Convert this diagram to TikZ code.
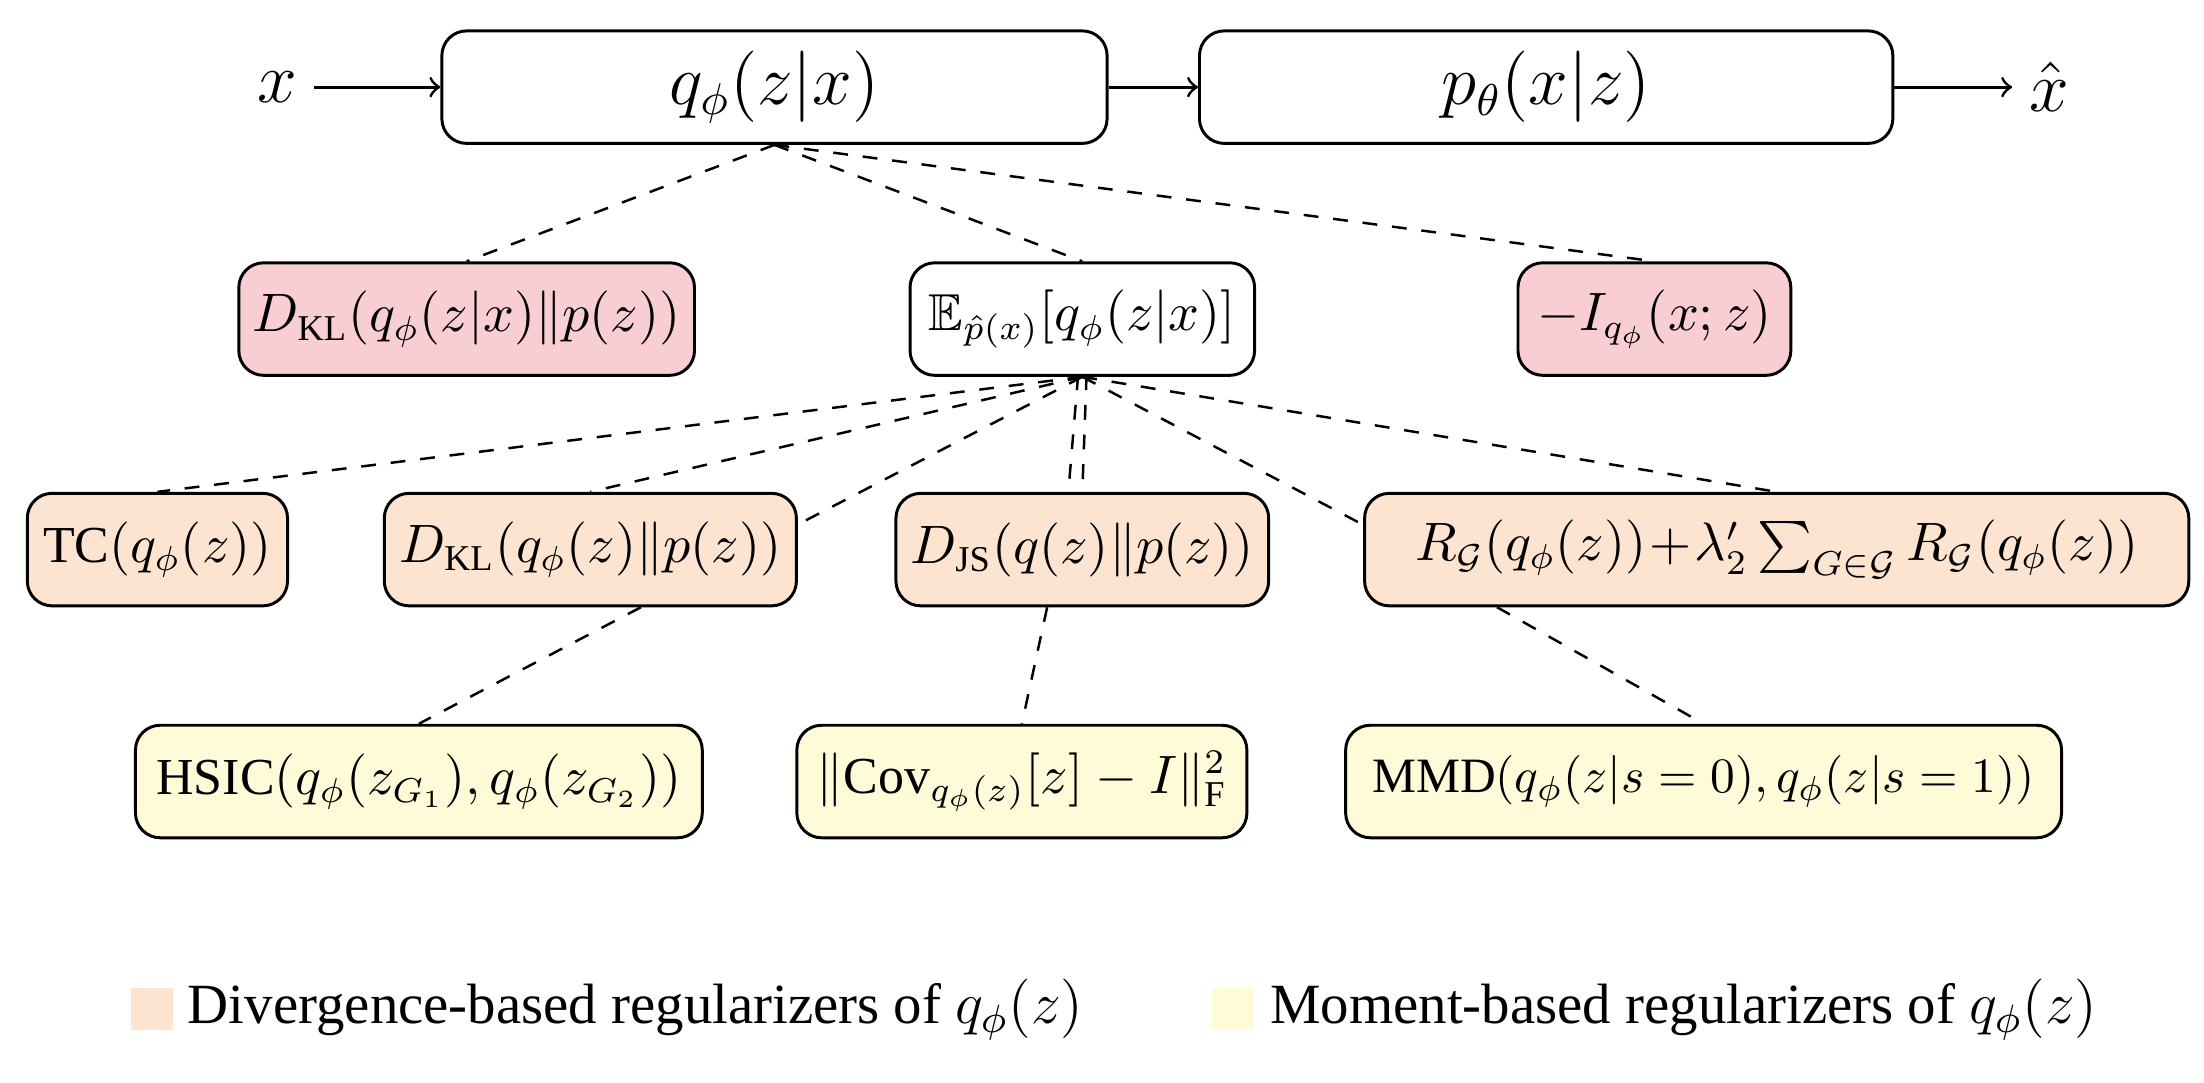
\documentclass[tikz,border=0pt]{standalone}
\usepackage{amsmath,amssymb}
\usepackage{fontspec}
\setmainfont{Liberation Serif}
\definecolor{cred}{RGB}{248,206,210}
\definecolor{corg}{RGB}{252,228,208}
\definecolor{cyel}{RGB}{255,250,216}
\begin{document}
\begin{tikzpicture}[x=0.01cm,y=-0.01cm,
  box/.style={draw,rounded corners=5pt,line width=0.6pt,inner sep=0pt,minimum height=0.8cm,font=\fontsize{10.5}{12}\selectfont},
  big/.style={box,font=\fontsize{13.5}{15}\selectfont},
  con/.style={dashed,line width=0.5pt},
  arr/.style={->,line width=0.6pt}]
\useasboundingbox (0,0) rectangle (1568,770);
\node[big,minimum width=4.73cm] (q) at (551,62) {$q_\phi(z|x)$};
\node[big,minimum width=4.93cm] (p) at (1100,62) {$p_\theta(x|z)$};
\node[font=\fontsize{13.5}{15}\selectfont] (x) at (197,62) {$x$};
\node[font=\fontsize{13.5}{15}\selectfont] (xh) at (1458,62) {$\hat x$};
\draw[arr] (x) -- (q);
\draw[arr] (q) -- (p);
\draw[arr] (p) -- (xh);
\node[box,fill=cred,minimum width=3.24cm] (kl) at (332,227) {$D_{\mathrm{KL}}(q_\phi(z|x)\|p(z))$};
\node[box,minimum width=2.45cm] (e) at (770,227) {$\mathbb{E}_{\hat p(x)}[q_\phi(z|x)]$};
\node[box,fill=cred,minimum width=1.94cm] (mi) at (1177,227) {$-I_{q_\phi}(x;z)$};
\node[box,fill=corg,minimum width=1.85cm] (tc) at (112,391) {TC$(q_\phi(z))$};
\node[box,fill=corg,minimum width=2.93cm] (klz) at (420,391) {$D_{\mathrm{KL}}(q_\phi(z)\|p(z))$};
\node[box,fill=corg,minimum width=2.65cm] (js) at (770,391) {$D_{\mathrm{JS}}(q(z)\|p(z))$};
\node[box,fill=corg,minimum width=5.86cm] (r) at (1264,391) {$R_{\mathcal G}(q_\phi(z))\!+\!\lambda_2'\sum_{G\in\mathcal G}R_{\mathcal G}(q_\phi(z))$};
\node[box,fill=cyel,minimum width=4.03cm] (hs) at (298,556) {HSIC$(q_\phi(z_{G_1}),q_\phi(z_{G_2}))$};
\node[box,fill=cyel,minimum width=3.2cm] (cov) at (727,556) {$\|\mathrm{Cov}_{q_\phi(z)}[z]-I\|_{\mathrm F}^2$};
\node[box,fill=cyel,minimum width=5.09cm,font=\fontsize{10}{12}\selectfont] (mmd) at (1212,556) {MMD$(q_\phi(z|s=0),q_\phi(z|s=1))$};
\draw[con] (q.south) -- (kl.north);
\draw[con] (q.south) -- (e.north);
\draw[con] (q.south) -- (mi.north);
\coordinate (e1) at (767,267);
\coordinate (e2) at (773,267);
\coordinate (ke) at (566,374);
\coordinate (rw) at (971,374);
\coordinate (j1) at (760,351);
\coordinate (ks) at (456,432);
\coordinate (js2) at (745,432);
\coordinate (rs) at (1065,432);
\draw[con] (e.south) -- (tc.north);
\draw[con] (e.south) -- (klz.north);
\draw[con] (e.south) -- (ke);
\draw[con] (e1) -- (j1);
\draw[con] (e2) -- (js.north);
\draw[con] (e.south) -- (r.north);
\draw[con] (e.south) -- (rw);
\draw[con] (ks) -- (hs.north);
\draw[con] (js2) -- (cov.north);
\draw[con] (rs) -- (mmd.north);
\node[fill=corg,minimum size=0.3cm,inner sep=0pt] (l1) at (108,718) {};
\node[anchor=west,font=\fontsize{11.5}{13}\selectfont,inner sep=0pt] (t1) at (133,718) {Divergence-based regularizers of $q_\phi(z)$};
\node[fill=cyel,minimum size=0.3cm,inner sep=0pt] (l2) at (877,718) {};
\node[anchor=west,font=\fontsize{11.5}{13}\selectfont,inner sep=0pt] (t2) at (903,718) {Moment-based regularizers of $q_\phi(z)$};
\end{tikzpicture}
\end{document}
